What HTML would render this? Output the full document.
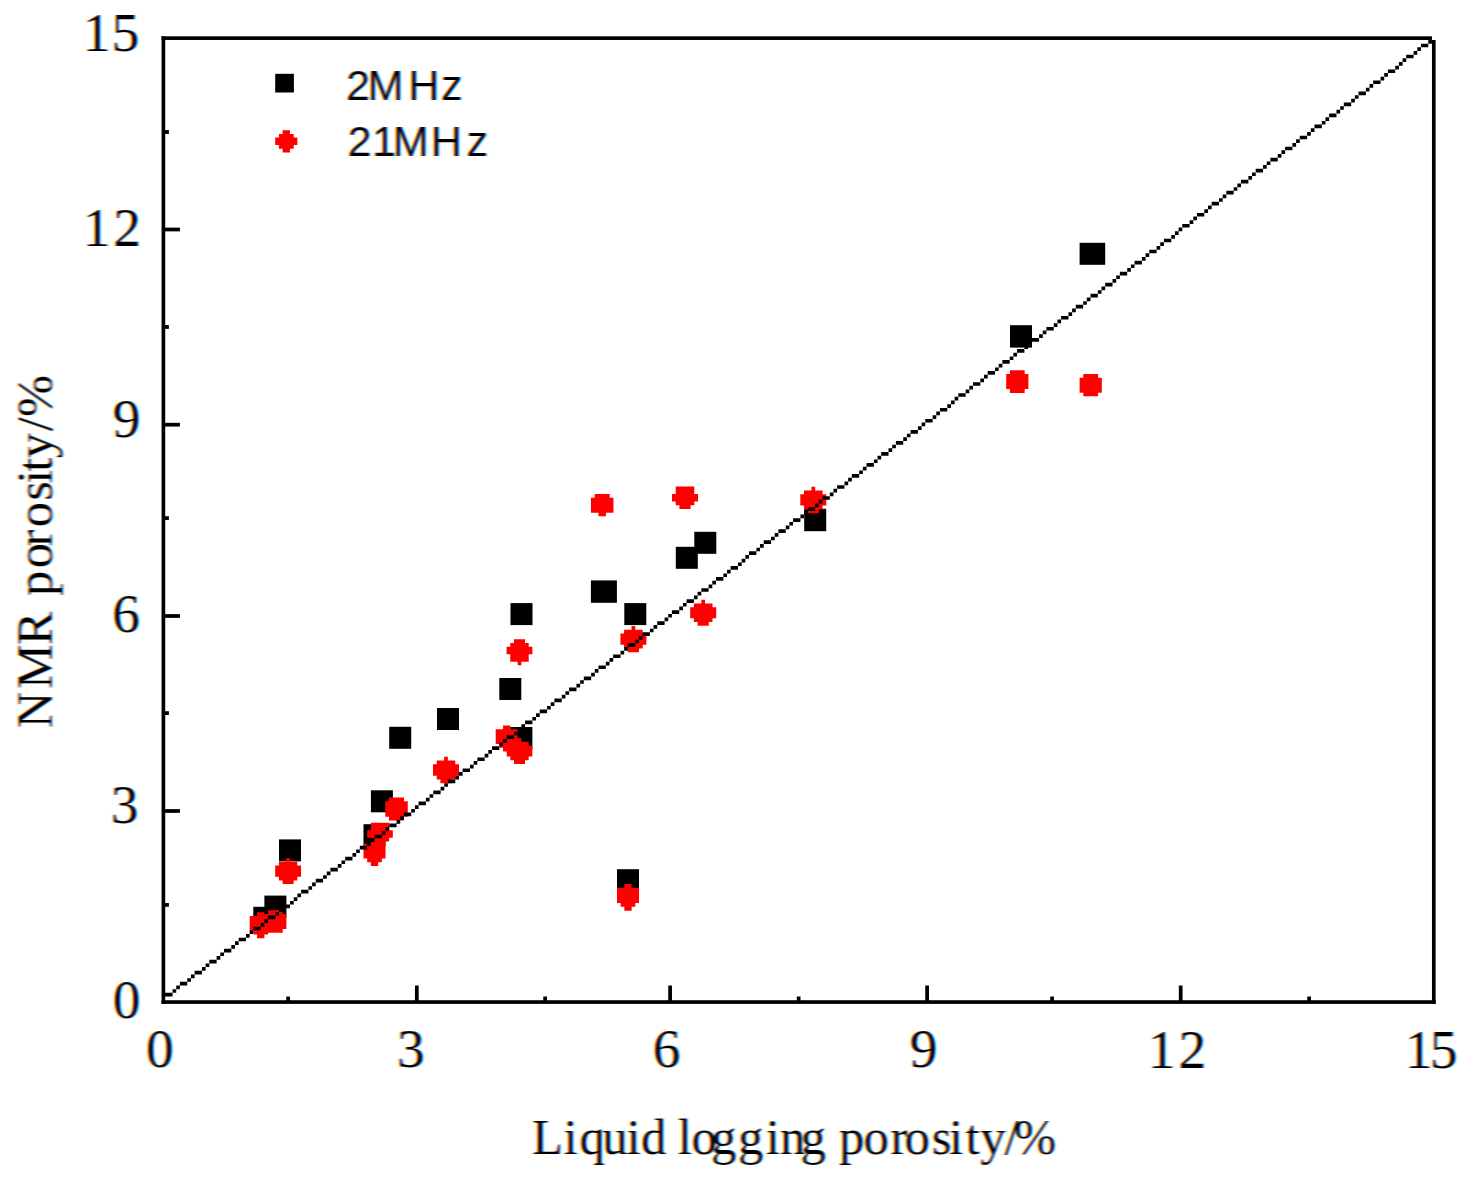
<!DOCTYPE html>
<html lang="en"><head><meta charset="utf-8"><title>NMR porosity vs liquid logging porosity</title>
<style>
html,body{margin:0;padding:0;background:#fff}
body{width:1465px;height:1181px;overflow:hidden}
svg{display:block}
text{fill:#000;white-space:pre}
</style></head><body>
<svg width="1465" height="1181" viewBox="0 0 1465 1181">
<defs>
<filter id="ct" filterUnits="userSpaceOnUse" x="0" y="0" width="1465" height="1181" color-interpolation-filters="sRGB">
<feGaussianBlur in="SourceAlpha" stdDeviation="1.05 0.6" result="a"/>
<feOffset in="a" dx="-1.35" result="aB"/>
<feOffset in="a" dx="1.35" result="aR"/>
<feFlood flood-color="#ffff00"/><feComposite in2="aB" operator="in" result="Y"/>
<feFlood flood-color="#ff00ff"/><feComposite in2="a" operator="in" result="M"/>
<feFlood flood-color="#00ffff"/><feComposite in2="aR" operator="in" result="C"/>
<feBlend in="Y" in2="M" mode="multiply" result="YM"/>
<feBlend in="YM" in2="C" mode="multiply"/>
</filter>
</defs>
<rect width="1465" height="1181" fill="#fff"/>
<g id="squares">
<rect x="279" y="839.4" width="22" height="22"/>
<rect x="264.4" y="895.6" width="22" height="22"/>
<rect x="253.3" y="906.8" width="22" height="22"/>
<rect x="370.9" y="790.3" width="22" height="22"/>
<rect x="363.5" y="824.2" width="22" height="22"/>
<rect x="389.2" y="726.8" width="22" height="22"/>
<rect x="437" y="708" width="22" height="22"/>
<rect x="499.3" y="678" width="22" height="22"/>
<rect x="510.4" y="727" width="22" height="22"/>
<rect x="510.5" y="603.1" width="22" height="22"/>
<rect x="590.9" y="580.4" width="26" height="22.4"/>
<rect x="624.3" y="603.1" width="22" height="22"/>
<rect x="675.8" y="546.8" width="22" height="22"/>
<rect x="694.3" y="531.8" width="22" height="22"/>
<rect x="804.2" y="508.8" width="22" height="22.4"/>
<rect x="617" y="869.2" width="22" height="22"/>
<rect x="1010" y="325.2" width="22" height="22.4"/>
<rect x="1079.6" y="242.8" width="25.6" height="22"/>
</g>
<g id="dots" fill="#f00">
<path d="M286.26 858.15h3.69v3.75h-3.69zM278.89 861.85h18.43v3.75h-18.43zM275.2 865.55h25.8v3.75h-25.8zM275.2 869.25h25.8v3.75h-25.8zM275.2 872.95h25.8v3.75h-25.8zM278.89 876.65h18.43v3.75h-18.43zM282.57 880.35h11.06v3.75h-11.06z"/>
<path d="M257.03 912.3h7.33v3.74h-7.33zM249.7 915.99h22v3.74h-22zM249.7 919.67h22v3.74h-22zM249.7 923.36h22v3.74h-22zM249.7 927.04h22v3.74h-22zM253.37 930.73h14.67v3.74h-14.67zM257.03 934.41h7.33v3.74h-7.33z"/>
<path d="M268.07 910.25h14.67v3.8h-14.67zM264.4 914h22v3.8h-22zM264.4 917.75h22v3.8h-22zM264.4 921.5h22v3.8h-22zM264.4 925.25h22v3.8h-22zM268.07 929h14.67v3.8h-14.67z"/>
<path d="M389 797.55h15v3.87h-15zM385.25 801.37h22.5v3.87h-22.5zM385.25 805.18h22.5v3.87h-22.5zM385.25 809h22.5v3.87h-22.5zM385.25 812.82h22.5v3.87h-22.5zM389 816.63h15v3.87h-15z"/>
<path d="M370.86 822.75h18.29v3.8h-18.29zM370.86 826.5h18.29v3.8h-18.29zM367.2 830.25h25.6v3.8h-25.6zM367.2 834h25.6v3.8h-25.6zM370.86 837.75h18.29v3.8h-18.29zM374.51 841.5h10.97v3.8h-10.97z"/>
<path d="M370.83 840.1h7.33v3.74h-7.33zM363.5 843.79h22v3.74h-22zM363.5 847.47h22v3.74h-22zM363.5 851.16h22v3.74h-22zM363.5 854.84h22v3.74h-22zM367.17 858.53h14.67v3.74h-14.67zM370.83 862.21h7.33v3.74h-7.33z"/>
<path d="M513.97 639.3h11.06v3.76h-11.06zM510.29 643.01h18.43v3.76h-18.43zM506.6 646.73h25.8v3.76h-25.8zM506.6 650.44h25.8v3.76h-25.8zM510.29 654.16h18.43v3.76h-18.43zM510.29 657.87h18.43v3.76h-18.43zM517.66 661.59h3.69v3.76h-3.69z"/>
<path d="M444.14 756.8h3.71v3.82h-3.71zM436.71 760.57h18.57v3.82h-18.57zM433 764.34h26v3.82h-26zM433 768.11h26v3.82h-26zM433 771.89h26v3.82h-26zM436.71 775.66h18.57v3.82h-18.57zM440.43 779.43h11.14v3.82h-11.14z"/>
<path d="M503.03 725.6h7.33v3.74h-7.33zM495.7 729.29h22v3.74h-22zM495.7 732.97h22v3.74h-22zM495.7 736.66h22v3.74h-22zM495.7 740.34h22v3.74h-22zM499.37 744.03h14.67v3.74h-14.67zM503.03 747.71h7.33v3.74h-7.33z"/>
<path d="M517.67 738.1h3.66v3.74h-3.66zM510.36 741.79h18.29v3.74h-18.29zM506.7 745.47h25.6v3.74h-25.6zM506.7 749.16h25.6v3.74h-25.6zM506.7 752.84h25.6v3.74h-25.6zM510.36 756.53h18.29v3.74h-18.29zM514.01 760.21h10.97v3.74h-10.97z"/>
<path d="M594.7 494.1h15v3.75h-15zM590.95 497.8h22.5v3.75h-22.5zM590.95 501.5h22.5v3.75h-22.5zM590.95 505.2h22.5v3.75h-22.5zM590.95 508.9h22.5v3.75h-22.5zM598.45 512.6h7.5v3.75h-7.5z"/>
<path d="M675.71 486.45h18.57v3.8h-18.57zM675.71 490.2h18.57v3.8h-18.57zM672 493.95h26v3.8h-26zM672 497.7h26v3.8h-26zM675.71 501.45h18.57v3.8h-18.57zM679.43 505.2h11.14v3.8h-11.14z"/>
<path d="M701.34 599.7h3.71v3.76h-3.71zM693.91 603.41h18.57v3.76h-18.57zM690.2 607.13h26v3.76h-26zM690.2 610.84h26v3.76h-26zM690.2 614.56h26v3.76h-26zM693.91 618.27h18.57v3.76h-18.57zM697.63 621.99h11.14v3.76h-11.14z"/>
<path d="M631.54 626.1h3.71v3.79h-3.71zM624.11 629.84h18.57v3.79h-18.57zM620.4 633.59h26v3.79h-26zM620.4 637.33h26v3.79h-26zM620.4 641.07h26v3.79h-26zM624.11 644.81h18.57v3.79h-18.57zM627.83 648.56h11.14v3.79h-11.14z"/>
<path d="M811.44 486.7h3.71v3.82h-3.71zM804.01 490.47h18.57v3.82h-18.57zM800.3 494.24h26v3.82h-26zM800.3 498.01h26v3.82h-26zM800.3 501.79h26v3.82h-26zM804.01 505.56h18.57v3.82h-18.57zM807.73 509.33h11.14v3.82h-11.14z"/>
<path d="M624.33 884h7.33v3.85h-7.33zM617 887.8h22v3.85h-22zM617 891.6h22v3.85h-22zM617 895.4h22v3.85h-22zM617 899.2h22v3.85h-22zM620.67 903h14.67v3.85h-14.67zM624.33 906.8h7.33v3.85h-7.33z"/>
<path d="M1009.9 370.15h14.8v3.83h-14.8zM1006.2 373.93h22.2v3.83h-22.2zM1006.2 377.72h22.2v3.83h-22.2zM1006.2 381.5h22.2v3.83h-22.2zM1006.2 385.28h22.2v3.83h-22.2zM1009.9 389.07h14.8v3.83h-14.8z"/>
<path d="M1083.3 374.1h14.8v3.75h-14.8zM1079.6 377.8h22.2v3.75h-22.2zM1079.6 381.5h22.2v3.75h-22.2zM1079.6 385.2h22.2v3.75h-22.2zM1079.6 388.9h22.2v3.75h-22.2zM1083.3 392.6h14.8v3.75h-14.8z"/>
</g>
<path id="diag" d="M163.73 992.86h8.84v3.68h-8.84zM172.57 989.19h3.67v3.68h-3.67zM176.24 985.51h3.67v3.68h-3.67zM179.91 981.83h7.34v3.68h-7.34zM187.26 978.15h3.67v3.68h-3.67zM190.93 974.47h3.67v3.68h-3.67zM194.6 970.79h7.34v3.68h-7.34zM201.94 967.11h3.67v3.68h-3.67zM205.61 963.43h3.67v3.68h-3.67zM209.29 959.75h7.34v3.68h-7.34zM216.63 956.07h3.67v3.68h-3.67zM220.3 952.39h3.67v3.68h-3.67zM223.97 948.71h7.34v3.68h-7.34zM231.32 945.04h3.67v3.68h-3.67zM234.99 941.36h3.67v3.68h-3.67zM238.66 937.68h7.34v3.68h-7.34zM246 934h3.67v3.68h-3.67zM249.67 930.32h3.67v3.68h-3.67zM253.35 926.64h7.34v3.68h-7.34zM260.69 922.96h3.67v3.68h-3.67zM264.36 919.28h3.67v3.68h-3.67zM268.03 915.6h7.34v3.68h-7.34zM275.38 911.92h3.67v3.68h-3.67zM279.05 908.24h3.67v3.68h-3.67zM282.72 904.57h7.34v3.68h-7.34zM290.06 900.89h3.67v3.68h-3.67zM293.73 897.21h3.67v3.68h-3.67zM297.41 893.53h3.67v3.68h-3.67zM301.08 889.85h7.34v3.68h-7.34zM308.42 886.17h3.67v3.68h-3.67zM312.09 882.49h3.67v3.68h-3.67zM315.76 878.81h7.34v3.68h-7.34zM323.11 875.13h3.67v3.68h-3.67zM326.78 871.45h3.67v3.68h-3.67zM330.45 867.77h7.34v3.68h-7.34zM337.79 864.1h3.67v3.68h-3.67zM341.47 860.42h3.67v3.68h-3.67zM345.14 856.74h7.34v3.68h-7.34zM352.48 853.06h3.67v3.68h-3.67zM356.15 849.38h3.67v3.68h-3.67zM359.82 845.7h7.34v3.68h-7.34zM367.17 842.02h3.67v3.68h-3.67zM370.84 838.34h3.67v3.68h-3.67zM374.51 834.66h7.34v3.68h-7.34zM381.85 830.98h3.67v3.68h-3.67zM385.53 827.3h3.67v3.68h-3.67zM389.2 823.62h7.34v3.68h-7.34zM396.54 819.95h3.67v3.68h-3.67zM400.21 816.27h3.67v3.68h-3.67zM403.88 812.59h7.34v3.68h-7.34zM411.23 808.91h3.67v3.68h-3.67zM414.9 805.23h3.67v3.68h-3.67zM418.57 801.55h7.34v3.68h-7.34zM425.91 797.87h3.67v3.68h-3.67zM429.59 794.19h3.67v3.68h-3.67zM433.26 790.51h7.34v3.68h-7.34zM440.6 786.83h3.67v3.68h-3.67zM444.27 783.15h3.67v3.68h-3.67zM447.94 779.48h7.34v3.68h-7.34zM455.29 775.8h3.67v3.68h-3.67zM458.96 772.12h3.67v3.68h-3.67zM462.63 768.44h7.34v3.68h-7.34zM469.97 764.76h3.67v3.68h-3.67zM473.65 761.08h3.67v3.68h-3.67zM477.32 757.4h7.34v3.68h-7.34zM484.66 753.72h3.67v3.68h-3.67zM488.33 750.04h3.67v3.68h-3.67zM492.01 746.36h7.34v3.68h-7.34zM499.35 742.68h3.67v3.68h-3.67zM503.02 739h3.67v3.68h-3.67zM506.69 735.33h7.34v3.68h-7.34zM514.04 731.65h3.67v3.68h-3.67zM517.71 727.97h3.67v3.68h-3.67zM521.38 724.29h3.67v3.68h-3.67zM525.05 720.61h7.34v3.68h-7.34zM532.39 716.93h3.67v3.68h-3.67zM536.07 713.25h3.67v3.68h-3.67zM539.74 709.57h7.34v3.68h-7.34zM547.08 705.89h3.67v3.68h-3.67zM550.75 702.21h3.67v3.68h-3.67zM554.42 698.53h7.34v3.68h-7.34zM561.77 694.86h3.67v3.68h-3.67zM565.44 691.18h3.67v3.68h-3.67zM569.11 687.5h7.34v3.68h-7.34zM576.45 683.82h3.67v3.68h-3.67zM580.13 680.14h3.67v3.68h-3.67zM583.8 676.46h7.34v3.68h-7.34zM591.14 672.78h3.67v3.68h-3.67zM594.81 669.1h3.67v3.68h-3.67zM598.48 665.42h7.34v3.68h-7.34zM605.83 661.74h3.67v3.68h-3.67zM609.5 658.06h3.67v3.68h-3.67zM613.17 654.38h7.34v3.68h-7.34zM620.51 650.71h3.67v3.68h-3.67zM624.19 647.03h3.67v3.68h-3.67zM627.86 643.35h7.34v3.68h-7.34zM635.2 639.67h3.67v3.68h-3.67zM638.87 635.99h3.67v3.68h-3.67zM642.54 632.31h7.34v3.68h-7.34zM649.89 628.63h3.67v3.68h-3.67zM653.56 624.95h3.67v3.68h-3.67zM657.23 621.27h7.34v3.68h-7.34zM664.57 617.59h3.67v3.68h-3.67zM668.25 613.91h3.67v3.68h-3.67zM671.92 610.24h7.34v3.68h-7.34zM679.26 606.56h3.67v3.68h-3.67zM682.93 602.88h3.67v3.68h-3.67zM686.6 599.2h7.34v3.68h-7.34zM693.95 595.52h3.67v3.68h-3.67zM697.62 591.84h3.67v3.68h-3.67zM701.29 588.16h7.34v3.68h-7.34zM708.63 584.48h3.67v3.68h-3.67zM712.31 580.8h3.67v3.68h-3.67zM715.98 577.12h7.34v3.68h-7.34zM723.32 573.44h3.67v3.68h-3.67zM726.99 569.76h3.67v3.68h-3.67zM730.66 566.09h7.34v3.68h-7.34zM738.01 562.41h3.67v3.68h-3.67zM741.68 558.73h3.67v3.68h-3.67zM745.35 555.05h3.67v3.68h-3.67zM749.02 551.37h7.34v3.68h-7.34zM756.37 547.69h3.67v3.68h-3.67zM760.04 544.01h3.67v3.68h-3.67zM763.71 540.33h7.34v3.68h-7.34zM771.05 536.65h3.67v3.68h-3.67zM774.72 532.97h3.67v3.68h-3.67zM778.4 529.29h7.34v3.68h-7.34zM785.74 525.62h3.67v3.68h-3.67zM789.41 521.94h3.67v3.68h-3.67zM793.08 518.26h7.34v3.68h-7.34zM800.43 514.58h3.67v3.68h-3.67zM804.1 510.9h3.67v3.68h-3.67zM807.77 507.22h7.34v3.68h-7.34zM815.11 503.54h3.67v3.68h-3.67zM818.78 499.86h3.67v3.68h-3.67zM822.46 496.18h7.34v3.68h-7.34zM829.8 492.5h3.67v3.68h-3.67zM833.47 488.82h3.67v3.68h-3.67zM837.14 485.14h7.34v3.68h-7.34zM844.49 481.47h3.67v3.68h-3.67zM848.16 477.79h3.67v3.68h-3.67zM851.83 474.11h7.34v3.68h-7.34zM859.17 470.43h3.67v3.68h-3.67zM862.84 466.75h3.67v3.68h-3.67zM866.52 463.07h7.34v3.68h-7.34zM873.86 459.39h3.67v3.68h-3.67zM877.53 455.71h3.67v3.68h-3.67zM881.2 452.03h7.34v3.68h-7.34zM888.55 448.35h3.67v3.68h-3.67zM892.22 444.67h3.67v3.68h-3.67zM895.89 441h7.34v3.68h-7.34zM903.23 437.32h3.67v3.68h-3.67zM906.9 433.64h3.67v3.68h-3.67zM910.58 429.96h7.34v3.68h-7.34zM917.92 426.28h3.67v3.68h-3.67zM921.59 422.6h3.67v3.68h-3.67zM925.26 418.92h7.34v3.68h-7.34zM932.61 415.24h3.67v3.68h-3.67zM936.28 411.56h3.67v3.68h-3.67zM939.95 407.88h7.34v3.68h-7.34zM947.29 404.2h3.67v3.68h-3.67zM950.96 400.52h3.67v3.68h-3.67zM954.64 396.85h3.67v3.68h-3.67zM958.31 393.17h7.34v3.68h-7.34zM965.65 389.49h3.67v3.68h-3.67zM969.32 385.81h3.67v3.68h-3.67zM972.99 382.13h7.34v3.68h-7.34zM980.34 378.45h3.67v3.68h-3.67zM984.01 374.77h3.67v3.68h-3.67zM987.68 371.09h7.34v3.68h-7.34zM995.03 367.41h3.67v3.68h-3.67zM998.7 363.73h3.67v3.68h-3.67zM1002.37 360.05h7.34v3.68h-7.34zM1009.71 356.38h3.67v3.68h-3.67zM1013.38 352.7h3.67v3.68h-3.67zM1017.06 349.02h7.34v3.68h-7.34zM1024.4 345.34h3.67v3.68h-3.67zM1028.07 341.66h3.67v3.68h-3.67zM1031.74 337.98h7.34v3.68h-7.34zM1039.09 334.3h3.67v3.68h-3.67zM1042.76 330.62h3.67v3.68h-3.67zM1046.43 326.94h7.34v3.68h-7.34zM1053.77 323.26h3.67v3.68h-3.67zM1057.44 319.58h3.67v3.68h-3.67zM1061.12 315.9h7.34v3.68h-7.34zM1068.46 312.23h3.67v3.68h-3.67zM1072.13 308.55h3.67v3.68h-3.67zM1075.8 304.87h7.34v3.68h-7.34zM1083.15 301.19h3.67v3.68h-3.67zM1086.82 297.51h3.67v3.68h-3.67zM1090.49 293.83h7.34v3.68h-7.34zM1097.83 290.15h3.67v3.68h-3.67zM1101.5 286.47h3.67v3.68h-3.67zM1105.18 282.79h7.34v3.68h-7.34zM1112.52 279.11h3.67v3.68h-3.67zM1116.19 275.43h3.67v3.68h-3.67zM1119.86 271.76h7.34v3.68h-7.34zM1127.21 268.08h3.67v3.68h-3.67zM1130.88 264.4h3.67v3.68h-3.67zM1134.55 260.72h7.34v3.68h-7.34zM1141.89 257.04h3.67v3.68h-3.67zM1145.56 253.36h3.67v3.68h-3.67zM1149.24 249.68h7.34v3.68h-7.34zM1156.58 246h3.67v3.68h-3.67zM1160.25 242.32h3.67v3.68h-3.67zM1163.92 238.64h7.34v3.68h-7.34zM1171.27 234.96h3.67v3.68h-3.67zM1174.94 231.29h3.67v3.68h-3.67zM1178.61 227.61h3.67v3.68h-3.67zM1182.28 223.93h7.34v3.68h-7.34zM1189.62 220.25h3.67v3.68h-3.67zM1193.3 216.57h3.67v3.68h-3.67zM1196.97 212.89h7.34v3.68h-7.34zM1204.31 209.21h3.67v3.68h-3.67zM1207.98 205.53h3.67v3.68h-3.67zM1211.65 201.85h7.34v3.68h-7.34zM1219 198.17h3.67v3.68h-3.67zM1222.67 194.49h3.67v3.68h-3.67zM1226.34 190.81h7.34v3.68h-7.34zM1233.68 187.14h3.67v3.68h-3.67zM1237.36 183.46h3.67v3.68h-3.67zM1241.03 179.78h7.34v3.68h-7.34zM1248.37 176.1h3.67v3.68h-3.67zM1252.04 172.42h3.67v3.68h-3.67zM1255.71 168.74h7.34v3.68h-7.34zM1263.06 165.06h3.67v3.68h-3.67zM1266.73 161.38h3.67v3.68h-3.67zM1270.4 157.7h7.34v3.68h-7.34zM1277.74 154.02h3.67v3.68h-3.67zM1281.42 150.34h3.67v3.68h-3.67zM1285.09 146.67h7.34v3.68h-7.34zM1292.43 142.99h3.67v3.68h-3.67zM1296.1 139.31h3.67v3.68h-3.67zM1299.77 135.63h7.34v3.68h-7.34zM1307.12 131.95h3.67v3.68h-3.67zM1310.79 128.27h3.67v3.68h-3.67zM1314.46 124.59h7.34v3.68h-7.34zM1321.8 120.91h3.67v3.68h-3.67zM1325.48 117.23h3.67v3.68h-3.67zM1329.15 113.55h7.34v3.68h-7.34zM1336.49 109.87h3.67v3.68h-3.67zM1340.16 106.19h3.67v3.68h-3.67zM1343.83 102.52h7.34v3.68h-7.34zM1351.18 98.84h3.67v3.68h-3.67zM1354.85 95.16h3.67v3.68h-3.67zM1358.52 91.48h7.34v3.68h-7.34zM1365.86 87.8h3.67v3.68h-3.67zM1369.54 84.12h3.67v3.68h-3.67zM1373.21 80.44h7.34v3.68h-7.34zM1380.55 76.76h3.67v3.68h-3.67zM1384.22 73.08h3.67v3.68h-3.67zM1387.89 69.4h7.34v3.68h-7.34zM1395.24 65.72h3.67v3.68h-3.67zM1398.91 62.05h3.67v3.68h-3.67zM1402.58 58.37h3.67v3.68h-3.67zM1406.25 54.69h7.34v3.68h-7.34zM1413.6 51.01h3.67v3.68h-3.67zM1417.27 47.33h3.67v3.68h-3.67zM1420.94 43.65h7.34v3.68h-7.34zM1428.28 39.97h3.67v3.68h-3.67z"/>
<g id="frame">
<rect x="161.55" y="36.29" width="1270.4" height="3.68"/>
<rect x="161.55" y="36.29" width="3.67" height="967.61"/>
<rect x="161.55" y="1000.22" width="1274.07" height="3.68"/>
<rect x="1431.95" y="39.97" width="3.67" height="963.93"/>
</g>
<g id="ticks">
<rect x="163.73" y="227.62" width="16.19" height="3.75"/>
<rect x="163.73" y="422.82" width="16.19" height="3.75"/>
<rect x="163.73" y="614.12" width="16.19" height="3.75"/>
<rect x="163.73" y="809.12" width="16.19" height="3.75"/>
<rect x="163.73" y="130.12" width="5.17" height="3.75"/>
<rect x="163.73" y="325.12" width="5.17" height="3.75"/>
<rect x="163.73" y="516.23" width="5.17" height="3.75"/>
<rect x="163.73" y="711.23" width="5.17" height="3.75"/>
<rect x="163.73" y="903.02" width="5.17" height="3.75"/>
<rect x="414.93" y="985.51" width="3.75" height="16.22"/>
<rect x="668.23" y="985.51" width="3.75" height="16.22"/>
<rect x="925.23" y="985.51" width="3.75" height="16.22"/>
<rect x="1178.83" y="985.51" width="3.75" height="16.22"/>
<rect x="286.23" y="996.54" width="3.75" height="5.18"/>
<rect x="543.27" y="996.54" width="3.75" height="5.18"/>
<rect x="796.77" y="996.54" width="3.75" height="5.18"/>
<rect x="1050.22" y="996.54" width="3.75" height="5.18"/>
<rect x="1307.22" y="996.54" width="3.75" height="5.18"/>
</g>
<g id="legendmarks">
<rect x="275.2" y="73.8" width="18.7" height="18.7"/>
<path fill="#f00" d="M282.61 130.23h7.38v3.74h-7.38zM278.92 133.92h14.76v3.74h-14.76zM275.23 137.61h22.14v3.74h-22.14zM275.23 141.3h22.14v3.74h-22.14zM278.92 144.99h14.76v3.74h-14.76zM282.61 148.68h7.38v3.74h-7.38z"/>
</g>
<g id="alltext" filter="url(#ct)">
<g id="ylabels" font-family="'Liberation Serif','Times New Roman',serif">
<text x="82.73 111.42" y="50.7" font-size="55.2">15</text>
<text x="82.73 113.23" y="245.9" font-size="55.2">12</text>
<text x="112.74" y="436.8" font-size="55.2">9</text>
<text x="112.34" y="632" font-size="55.2">6</text>
<text x="110.86" y="823" font-size="55.2">3</text>
<text x="112.7" y="1018.1" font-size="55.2">0</text>
</g>
<g id="xlabels" font-family="'Liberation Serif','Times New Roman',serif">
<text x="146.1" y="1067.1" font-size="55.2">0</text>
<text x="397.11" y="1067.1" font-size="55.2">3</text>
<text x="652.79" y="1067.1" font-size="55.2">6</text>
<text x="909.74" y="1067.1" font-size="55.2">9</text>
<text x="1147.83 1178.41" y="1067.6" font-size="55.2">12</text>
<text x="1404.73 1429.77" y="1067.6" font-size="55.2">15</text>
</g>
<g id="xtitle" font-family="'Liberation Serif','Times New Roman',serif">
<text x="531.97 563.59 579.62 602.17 626.59 640.92 672.55 677.83 691.62 711.02 738.12 765.84 779.98 800.62 831.7 839.1 863.62 890.61 904.58 931.85 949.04 965.39 980.17 1004.38 1014.07" y="1153.6" font-size="50.5">Liquid logging porosity/%</text>
</g>
<g id="ytitle" font-family="'Liberation Serif','Times New Roman',serif" transform="translate(51.5 0) rotate(-90)">
<text x="-728.18 -689.04 -645.18 -600.95 -596.05 -568.33 -546.49 -527.17 -500.75 -483.76 -471.71 -458.18 -431.37 -416.98" y="0" font-size="50.5">NMR porosity/%</text>
</g>
<g id="legendtext">
<g font-family="'Liberation Sans',Arial,sans-serif">
<text x="345.94 367.44 408.26 441.1" y="99.6" font-size="43">2MHz</text>
<text x="347.59 371.9 392.84 430.81 466.5" y="156.2" font-size="43">21MHz</text>
</g></g>
</g>
</svg>
</body></html>
